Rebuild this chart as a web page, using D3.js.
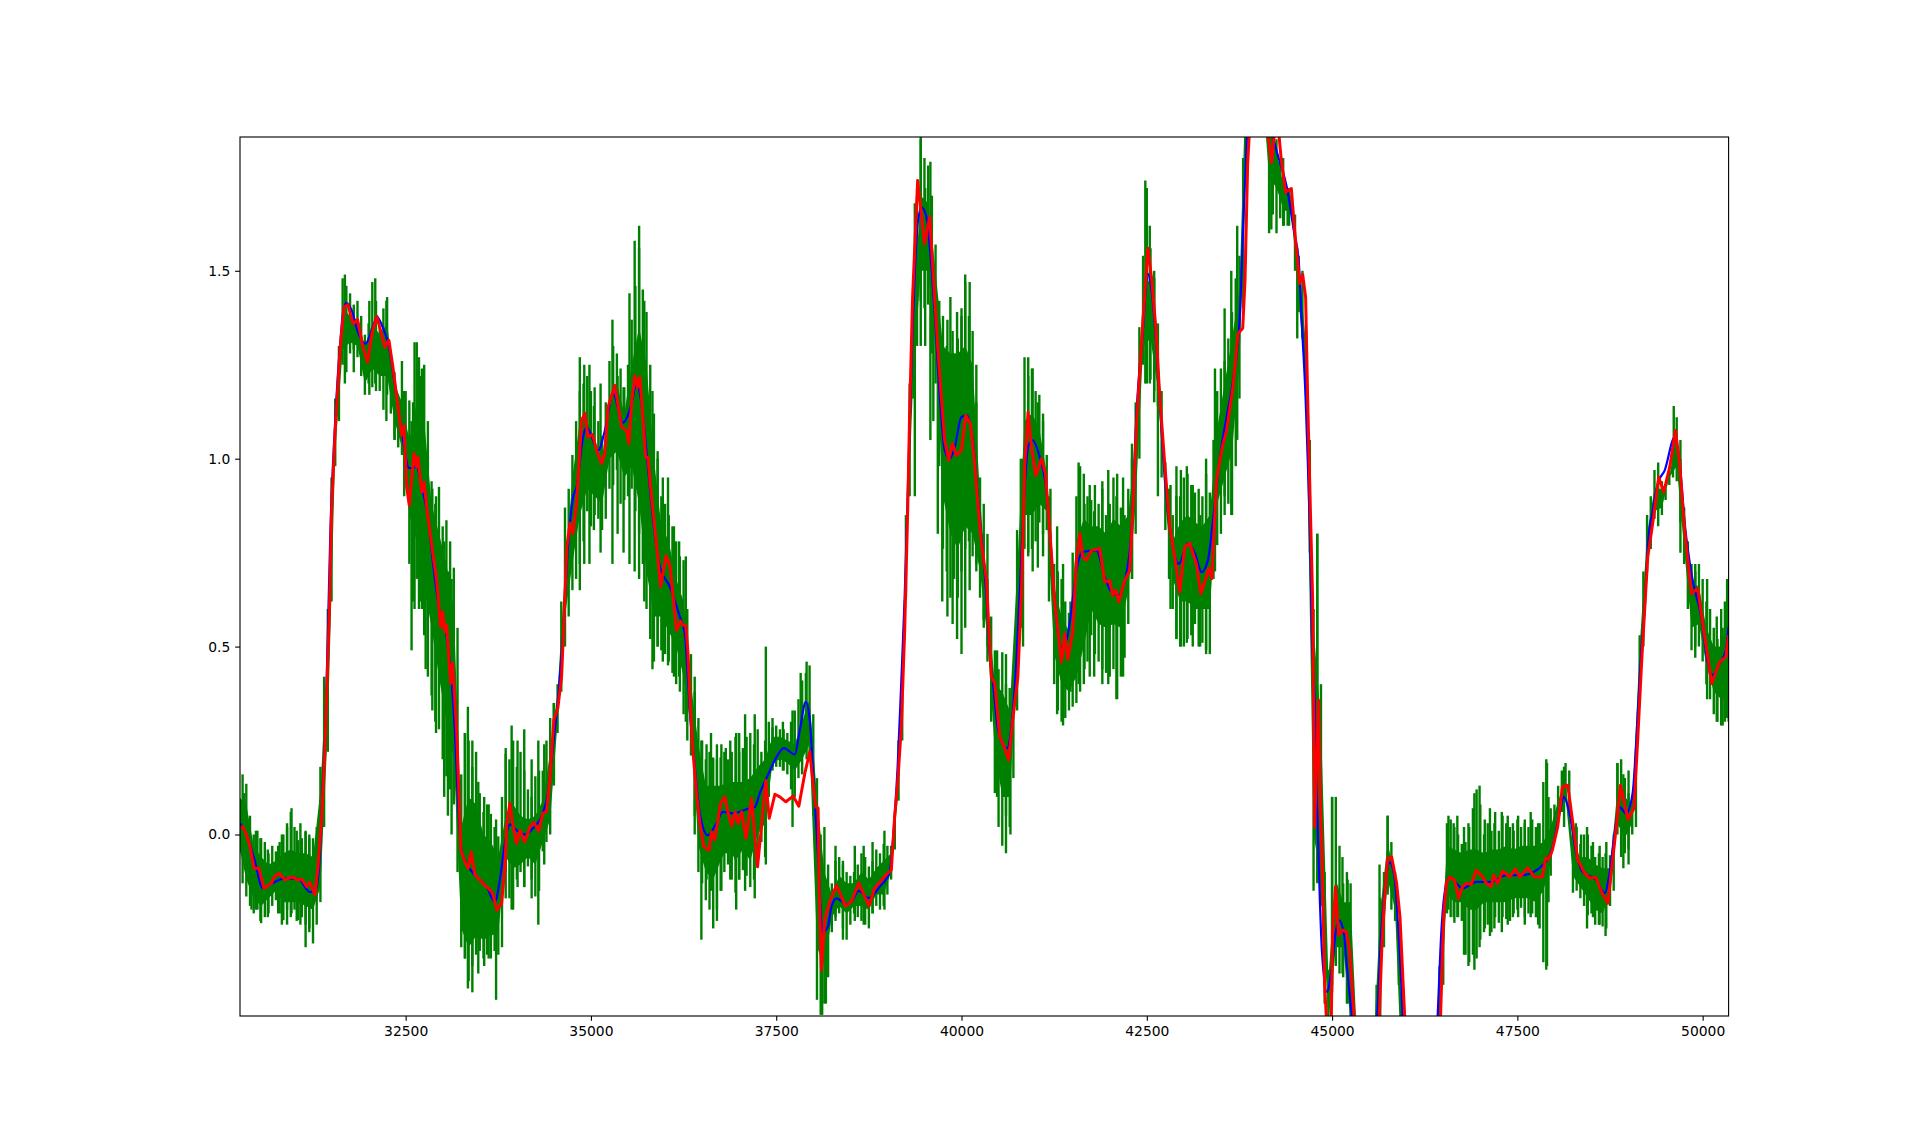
<!DOCTYPE html>
<html><head><meta charset="utf-8">
<script src="https://cdn.jsdelivr.net/npm/d3@7"></script>
<style>html,body{margin:0;padding:0;background:#fff}svg{display:block}</style>
</head><body><svg id="c" width="1920" height="1142"></svg>
<script>
const xTicks=[32500,35000,37500,40000,42500,45000,47500,50000];
const yTicks=[0,0.5,1,1.5];
const xDomain=[30265,50350], yDomain=[-0.483,1.856];

const greenX=d3.range(30250,50351,100);
const greenMidX=d3.range(30300,50351,100);
// outermost reach of the noisy series, per column
const greenHi=[
.17,.135,.0,-.01,-.05,-.045,.0,.06,-.015,.007,
-.01,.18,.6,1.16,1.48,1.44,1.42,1.33,1.47,1.35,
1.43,1.23,1.26,1.155,1.31,1.25,.94,.925,.836,.71,
.16,.25,.22,.06,.055,-.005,.215,.25,.22,.12,
.155,.17,.31,.4,.87,1.01,1.27,1.22,1.19,1.06,
1.26,1.28,1.19,1.37,1.56,1.39,1.12,.9,.85,.78,
.73,.48,.31,.2,.205,.205,.2,.26,.23,.27,
.28,.25,.285,.28,.27,.33,.41,.45,.15,.02,
-.13,-.06,-.1,-.1,-.05,-.085,-.04,-.025,-.03,.25,
.85,1.47,1.85,1.78,1.57,1.38,1.43,1.32,1.47,1.34,
.95,.68,.49,.485,.39,.81,1.27,1.24,1.17,1.01,
.72,.68,.59,.9,.96,.89,.88,.85,.95,.87,
.92,1.15,1.54,1.56,1.36,.99,.85,.9,.96,.91,
.9,.91,1.18,1.26,1.39,1.54,2.1,2.1,2.1,1.9,
1.85,1.72,1.7,1.54,1.34,.6,.4,-.36,.1,-.13,
-.13,-.6,-.8,-.55,-.17,.05,-.1,-.5,-.8,-1,
-1,-.8,-.35,.03,.02,-.025,.02,.12,.0,.01,
.01,.03,.01,.02,.02,.02,.14,.07,.13,.19,
.0,-.025,.0,-.06,-.06,-.055,.19,.15,.1,.53,
.85,.97,.94,.97,1.11,.87,.72,.72,.62,.55,
.6,.66];
const greenLo=[
-.08,-.165,-.21,-.236,-.21,-.175,-.228,-.22,-.228,-.24,
-.29,-.18,.22,.98,1.25,1.28,1.27,1.17,1.19,1.18,
1.17,1.05,1.01,.72,.68,.53,.37,.28,.155,.08,
-.3,-.39,-.32,-.33,-.33,-.32,-.1,-.2,-.1,-.085,
-.165,-.045,.0,.27,.5,.65,.72,.86,.85,.81,
.92,.97,.89,.92,.8,.6,.46,.49,.46,.4,
.32,.21,-.1,-.175,-.25,-.15,-.08,-.155,-.095,-.14,
-.05,-.06,.17,.18,.16,.1,.16,.2,-.44,-.45,
-.26,-.21,-.28,-.21,-.23,-.25,-.19,-.19,-.12,.09,
.63,1.16,1.42,1.41,1.2,.76,.63,.63,.76,.74,
.63,.46,.11,-.03,.02,.33,.76,.76,.83,.81,
.4,.3,.33,.35,.4,.53,.46,.43,.44,.42,
.56,.8,1.25,1.21,1.14,.81,.6,.5,.52,.56,
.51,.48,.77,.9,.85,1.16,1.75,2.0,2.0,1.6,
1.6,1.62,1.65,1.39,1.16,-.15,-.19,-.5,-.35,-.38,
-.5,-1,-1,-1,-.5,-.15,-.23,-.7,-1,-1.2,
-1.2,-1,-.55,-.21,-.235,-.23,-.34,-.33,-.26,-.26,
-.235,-.225,-.21,-.195,-.21,-.22,-.34,-.11,.04,.09,
-.155,-.17,-.215,-.24,-.245,-.19,.0,-.05,.0,.36,
.7,.84,.85,.93,.94,.72,.49,.5,.4,.32,
.29,.3];
// solid core of the noisy series
const greenBodyHi=[
.1,.08,-.03,-.06,-.08,-.07,-.05,-.04,-.05,-.05,
-.06,.12,.5,1.1,1.4,1.38,1.37,1.3,1.36,1.33,
1.36,1.2,1.15,1.05,1.15,1.1,.88,.8,.72,.6,
.02,.1,.08,.0,-.02,-.06,.05,.08,.05,.04,
.05,.09,.22,.38,.7,.95,1.1,1.1,1.05,1.0,
1.15,1.2,1.12,1.25,1.35,1.25,1.0,.82,.78,.68,
.62,.4,.24,.13,.13,.13,.14,.14,.14,.15,
.18,.2,.26,.26,.25,.24,.3,.36,.1,-.1,
-.16,-.11,-.13,-.13,-.1,-.12,-.09,-.07,-.05,.2,
.78,1.4,1.7,1.68,1.5,1.3,1.28,1.28,1.3,1.25,
.9,.62,.4,.38,.33,.7,1.1,1.12,1.08,.96,
.66,.58,.54,.78,.84,.82,.82,.8,.84,.82,
.85,1.05,1.45,1.48,1.3,.95,.78,.83,.85,.83,
.82,.85,1.08,1.2,1.32,1.45,2.1,2.1,2.1,1.95,
1.82,1.72,1.7,1.52,1.3,.55,.3,-.38,-.12,-.18,
-.18,-.6,-.8,-.6,-.2,-.02,-.12,-.5,-.8,-1,
-1,-.8,-.37,-.03,-.04,-.05,-.04,-.04,-.05,-.04,
-.04,-.03,-.04,-.03,-.03,-.03,-.02,.02,.09,.14,
-.03,-.06,-.06,-.08,-.09,-.09,.12,.1,.08,.5,
.8,.92,.92,.95,1.07,.82,.67,.66,.55,.5,
.5,.6];
const greenBodyLo=[
-.03,-.12,-.17,-.19,-.17,-.15,-.18,-.18,-.18,-.19,
-.2,-.14,.28,1.02,1.29,1.31,1.3,1.2,1.24,1.22,
1.22,1.1,1.03,.85,.78,.66,.55,.42,.3,.2,
-.25,-.3,-.27,-.28,-.27,-.26,-.06,-.09,-.08,-.06,
-.08,-.02,.04,.3,.58,.72,.85,.92,.9,.88,
1.0,1.02,.95,.98,.88,.7,.58,.58,.54,.5,
.42,.28,-.03,-.1,-.12,-.07,-.03,-.07,-.04,-.07,
.0,.03,.19,.2,.19,.17,.2,.24,-.3,-.35,
-.22,-.19,-.21,-.19,-.19,-.2,-.16,-.16,-.1,.12,
.7,1.22,1.5,1.5,1.28,.9,.8,.76,.82,.8,
.7,.52,.22,.1,.1,.45,.85,.85,.88,.86,
.48,.4,.38,.42,.5,.6,.56,.55,.56,.55,
.65,.88,1.3,1.32,1.18,.88,.68,.62,.62,.6,
.6,.6,.88,.95,1.02,1.25,1.85,2,2,1.75,
1.72,1.66,1.66,1.42,1.18,.0,-.12,-.5,-.3,-.3,
-.5,-1,-1,-1,-.4,-.12,-.2,-.7,-1,-1.2,
-1.2,-1,-.5,-.16,-.18,-.18,-.2,-.2,-.18,-.18,
-.18,-.18,-.17,-.17,-.17,-.18,-.15,-.08,.05,.1,
-.11,-.14,-.17,-.2,-.21,-.16,.03,-.01,.03,.38,
.73,.86,.87,.95,.98,.76,.55,.56,.45,.38,
.36,.36];
// reach of the noise halfway between columns
const greenMidHi=[
.16,.05,.01,-.02,-.03,-.02,.03,.02,-.01,-.01,
.02,.42,.95,1.3,1.46,1.4,1.38,1.36,1.42,1.4,
1.27,1.16,1.18,1.15,1.22,1.1,.88,.82,.78,.55,
.27,.18,.11,.08,.02,.1,.2,.18,.17,.1,
.17,.25,.35,.62,.92,1.1,1.2,1.18,1.1,1.15,
1.3,1.24,1.25,1.46,1.45,1.25,1.02,.88,.82,.74,
.6,.38,.25,.22,.2,.22,.22,.22,.26,.24,
.22,.3,.29,.28,.3,.36,.43,.32,.0,-.08,
-.07,-.08,-.11,-.08,-.06,-.07,-.05,-.03,.05,.45,
1.2,1.7,1.8,1.7,1.42,1.3,1.28,1.4,1.38,1.25,
.8,.58,.44,.48,.42,1.0,1.22,1.18,1.12,.92,
.7,.62,.75,.98,.9,.93,.92,.88,.96,.85,
1.0,1.35,1.72,1.48,1.18,.92,.9,.95,.93,.92,
.96,1.05,1.24,1.32,1.48,1.8,2.1,2.1,2.05,1.88,
1.8,1.72,1.65,1.5,1.05,.8,-.1,.1,-.03,-.1,
-.5,-.7,-.7,-.4,-.1,-.02,-.25,-.7,-.9,-1,
-.95,-.6,-.2,.04,.0,-.02,.07,.08,.03,.06,
.05,.02,.04,.03,.04,.03,.19,.08,.17,.17,
.02,.0,-.03,-.05,-.02,.0,.2,.17,.15,.7,
.9,.99,.92,1.03,1.05,.78,.7,.68,.6,.52,
.62];
const greenMidLo=[
-.13,-.19,-.2,-.22,-.19,-.21,-.2,-.2,-.22,-.25,
-.24,.02,.62,1.1,1.23,1.29,1.22,1.2,1.18,1.13,
1.12,1.03,.95,.62,.62,.42,.3,.2,.12,-.1,
-.33,-.35,-.31,-.32,-.31,-.3,-.17,-.12,-.14,-.12,
-.15,-.02,.13,.38,.58,.68,.78,.82,.84,.84,
.93,.88,.9,.86,.72,.52,.5,.48,.43,.38,
.25,.05,-.13,-.2,-.2,-.1,-.12,-.12,-.11,-.12,
-.02,.1,.18,.17,.12,.15,.22,.05,-.48,-.38,
-.23,-.25,-.24,-.22,-.24,-.21,-.2,-.16,-.04,.25,
.9,1.3,1.4,1.28,.98,.7,.68,.7,.78,.72,
.55,.3,.02,.05,.15,.55,.74,.78,.8,.74,
.33,.31,.34,.38,.46,.48,.44,.42,.36,.47,
.68,1.0,1.2,1.18,.95,.68,.52,.5,.53,.5,
.49,.68,.8,.88,.98,1.4,2,2,1.9,1.65,
1.64,1.62,1.5,1.32,.75,-.12,-.45,-.4,-.37,-.45,
-.7,-1,-1,-.8,-.3,-.2,-.4,-1,-1.1,-1.2,
-1.1,-.8,-.4,-.22,-.22,-.32,-.32,-.28,-.24,-.22,
-.22,-.23,-.2,-.22,-.21,-.25,-.35,-.02,.06,.06,
-.15,-.19,-.21,-.24,-.25,-.15,-.06,-.04,.02,.5,
.76,.82,.89,.95,.83,.6,.5,.46,.36,.3,
.3];

// isolated spikes of the noisy series: x, low, high
const greenSpikes=[
[30320,-.02,.11],[30420,-.2,-.02],[30480,-.2,.01],[30540,-.23,-.01],[30640,-.22,-.04],[30780,-.21,-.03],[30830,-.24,.0],[30900,-.24,.02],[30960,-.21,.07],[31030,-.23,.01],[31080,-.24,.03],[31150,-.3,.01],[31200,-.26,.0],
[31680,1.2,1.49],[31800,1.23,1.41],[32010,1.17,1.42],[32090,1.2,1.48],[32240,1.1,1.42],[32350,1.05,1.21],[32480,.9,1.18],[32580,.49,1.1],[32620,.6,1.31],[32680,.6,1.27],[32720,.6,1.24],[32770,.44,1.0],[32860,.33,.92],[32910,.27,.9],[33020,.1,.78],[33070,.05,.7],[33120,.0,.68],
[33340,-.41,.34],[33300,-.33,.27],[33400,-.42,.25],[33480,-.37,.14],[33560,-.35,.1],[33620,-.33,.08],[33720,-.44,.04],[33850,-.17,.23],[33930,-.2,.29],[34010,-.14,.25],[34100,-.14,.28],[34200,-.17,.2],[34290,-.24,.25],[34370,-.08,.24],[34500,.14,.35],
[34850,.65,1.18],[34910,.72,1.25],[34980,.72,1.25],[35040,.81,1.14],[35130,.75,1.2],[35290,.72,1.37],[35360,.8,1.22],[35440,.75,1.19],[35520,.72,1.44],[35590,.7,1.58],[35650,.68,1.62],[35720,.62,1.42],[35830,.44,1.18],[35900,.5,1.0],[35970,.46,.95],[36040,.45,.95],[36120,.42,.82],[36190,.42,.78],[36280,.3,.74],
[36400,.0,.42],[36490,-.28,.25],[36560,-.12,.24],[36620,-.15,.27],[36700,-.23,.24],[36760,-.15,.24],[36820,-.05,.23],[36880,-.12,.25],[36960,-.2,.27],[37000,-.12,.27],[37080,-.15,.32],[37210,-.17,.32],[37360,-.08,.5],[37450,.18,.31],[37590,.17,.3],[37720,.02,.33],[37830,.2,.43],[37910,.2,.46],
[38120,-.48,-.1],[38170,-.45,-.13],[38300,-.22,-.03],[38400,-.28,-.07],[38560,-.23,-.03],[38680,-.24,-.03],[38800,-.21,-.02],[38960,-.2,.01],
[39370,.9,1.68],[39450,1.3,1.86],[39510,1.3,1.72],[39580,1.05,1.79],[39620,1.1,1.52],[39680,.8,1.32],[39740,.62,1.26],[39810,.58,1.37],[39880,.56,1.34],[39940,.52,1.39],[40000,.48,1.38],[40050,.55,1.49],[40110,.65,1.47],[40200,.7,1.15],[40300,.57,.88],[40350,.5,.8],[40480,.1,.49],[40600,-.05,.4],[40660,.0,.35],
[40830,.5,1.0],[40900,.75,1.27],[40960,.7,1.24],[41030,.71,1.15],[41100,.74,1.1],[41180,.62,.9],[41290,.32,.82],[41370,.29,.72],[41470,.38,.62],[41580,.4,.99],[41660,.44,.88],[41730,.42,.93],[41790,.42,.86],[41900,.4,.94],[41980,.4,.97],[42090,.36,.9],[42180,.42,.95],
[42300,.68,1.04],[42480,1.2,1.74],[42540,1.2,1.62],[42600,1.15,1.5],[42650,.9,1.2],[42820,.6,.93],[42900,.52,.98],[42960,.5,.97],[43040,.51,.98],[43120,.5,.93],[43220,.5,.85],[43300,.48,1.0],[43420,.7,1.24],[43550,.85,1.4],[43640,.85,1.5],[43720,1.05,1.62],
[44180,1.61,1.86],[44340,1.62,1.8],[44420,1.62,1.72],[44530,1.32,1.56],[44800,-.13,.8],[45000,-.42,.1],[45140,-.37,-.06],[45210,-.45,-.12],
[45640,-.42,-.08],[45750,-.16,.05],
[46570,-.2,.05],[46640,-.22,.03],[46690,-.22,.05],[46780,-.32,.02],[46840,-.35,.03],[46920,-.36,.11],[46990,-.3,.13],[47060,-.25,.04],[47130,-.27,.07],[47190,-.25,.03],[47290,-.26,.06],[47370,-.24,.05],[47440,-.22,.03],[47510,-.22,.05],[47600,-.24,.04],[47680,-.22,.06],[47780,-.24,.03],[47890,-.36,.2],[47920,-.18,.1],
[48130,.02,.18],[48290,-.12,.03],[48360,-.14,.0],[48440,-.25,.02],[48520,-.22,-.02],[48610,-.24,-.03],[48690,-.27,-.05],[48850,.02,.19],[48930,-.09,.16],[49000,-.08,.11],
[49610,.98,1.14],[49700,.75,1.0],[49900,.47,.72],[50060,.36,.68],[50190,.3,.58],[50270,.29,.55],[50330,.31,.68]];

const blueSeries=[[30265,.03],[30350,.0],[30450,-.06],[30575,-.143],[30700,-.13],[30872,-.117],[31050,-.118],[31209,-.153],[31276,-.15],[31330,-.09],[31384,.14],[31420,.3],[31486,.82],[31552,1.11],[31618,1.31],[31660,1.395],[31704,1.415],[31780,1.39],[31850,1.34],[31960,1.306],[32040,1.34],[32115,1.377],[32190,1.35],[32265,1.306],[32378,1.164],[32465,1.049],[32546,.975],[32648,.978],[32715,.925],[32800,.845],[32870,.72],[32963,.588],[33053,.526],[33120,.41],[33165,.27],[33205,.09],[33255,-.042],[33323,-.077],[33457,-.113],[33592,-.139],[33704,-.179],[33772,-.12],[33839,-.024],[33906,.027],[33996,.011],[34108,.0],[34216,.016],[34350,.056],[34420,.11],[34487,.233],[34554,.357],[34626,.543],[34690,.765],[34760,.898],[34807,.925],[34893,1.057],[34941,1.084],[35098,1.022],[35188,1.075],[35298,1.173],[35433,1.096],[35548,1.146],[35615,1.2],[35683,1.146],[35773,.969],[35840,.836],[35930,.712],[36065,.659],[36200,.579],[36267,.534],[36310,.41],[36345,.3],[36402,.18],[36469,.056],[36577,-.002],[36693,.03],[36780,.06],[36915,.056],[37100,.067],[37212,.073],[37279,.11],[37387,.158],[37504,.206],[37603,.23],[37751,.213],[37818,.277],[37899,.353],[37953,.304],[37993,.18],[38060,-.042],[38128,-.259],[38195,-.246],[38245,-.193],[38312,-.17],[38447,-.185],[38514,-.179],[38612,-.15],[38747,-.169],[38895,-.139],[39030,-.1],[39097,.047],[39138,.18],[39188,.41],[39233,.632],[39273,.898],[39340,1.341],[39408,1.625],[39462,1.669],[39527,1.643],[39572,1.563],[39639,1.386],[39707,1.164],[39774,1.022],[39842,1.0],[39909,1.031],[39999,1.111],[40071,1.115],[40152,1.049],[40220,.898],[40269,.791],[40337,.632],[40382,.48],[40426,.402],[40494,.277],[40611,.229],[40678,.296],[40746,.482],[40813,.765],[40858,.942],[40898,1.031],[40957,1.049],[41056,1.004],[41133,.934],[41191,.809],[41259,.615],[41348,.499],[41416,.517],[41483,.597],[41551,.703],[41637,.752],[41820,.756],[41933,.685],[42023,.645],[42110,.636],[42204,.676],[42294,.809],[42361,1.12],[42447,1.341],[42514,1.492],[42564,1.448],[42631,1.297],[42699,1.075],[42766,.898],[42852,.765],[42933,.72],[43055,.775],[43150,.748],[43239,.698],[43325,.73],[43393,.836],[43487,1.004],[43577,1.111],[43663,1.208],[43757,1.386],[43798,1.607],[43847,1.838],[43900,2.0],[44000,2.08],[44100,2.0],[44215,1.847],[44282,1.798],[44390,1.722],[44484,1.607],[44552,1.519],[44592,1.359],[44642,1.164],[44673,.987],[44710,.72],[44727,.534],[44765,.357],[44795,.091],[44835,-.175],[44862,-.307],[44930,-.419],[44997,-.352],[45047,-.263],[45092,-.228],[45159,-.263],[45200,-.352],[45263,-.476],[45330,-.6],[45450,-.75],[45609,-.483],[45662,-.263],[45707,-.156],[45775,-.074],[45842,-.113],[45883,-.219],[45933,-.396],[45950,-.483],[46200,-1.0],[46424,-.483],[46473,-.263],[46518,-.156],[46585,-.113],[46761,-.143],[46946,-.126],[47148,-.126],[47350,-.108],[47570,-.108],[47840,-.082],[47975,-.033],[48069,.056],[48123,.1],[48204,.056],[48294,-.05],[48380,-.1],[48564,-.121],[48676,-.156],[48744,-.103],[48811,.003],[48878,.073],[48968,.056],[49055,.11],[49122,.313],[49172,.49],[49218,.6],[49259,.765],[49326,.862],[49394,.934],[49488,.969],[49623,1.057],[49690,.987],[49758,.828],[49848,.695],[49980,.579],[50070,.456],[50133,.424],[50232,.456],[50312,.49],[50350,.552]];

const redSeries=[[30275,.02],[30305,.02],[30355,-.002],[30400,-.033],[30454,-.09],[30521,-.09],[30589,-.143],[30692,-.129],[30723,-.113],[30791,-.103],[30872,-.121],[30962,-.113],[31048,-.121],[31095,-.118],[31165,-.139],[31209,-.127],[31276,-.161],[31317,-.086],[31367,.047],[31411,.224],[31434,.375],[31470,.588],[31502,.87],[31547,1.067],[31614,1.288],[31668,1.403],[31722,1.41],[31789,1.359],[31852,1.37],[31924,1.297],[31987,1.257],[32045,1.333],[32112,1.379],[32220,1.297],[32274,1.315],[32328,1.244],[32395,1.142],[32446,1.062],[32477,1.088],[32513,.925],[32549,.876],[32612,1.014],[32648,.978],[32665,1.004],[32716,.911],[32747,.938],[32801,.845],[32855,.765],[32919,.676],[32972,.552],[32999,.592],[33030,.539],[33053,.557],[33107,.402],[33134,.455],[33188,.277],[33246,-.042],[33300,-.073],[33343,-.09],[33383,-.046],[33437,-.108],[33544,-.13],[33612,-.143],[33650,-.15],[33680,-.16],[33731,-.201],[33795,-.183],[33839,-.086],[33866,.03],[33906,.083],[33943,.03],[33996,-.024],[34041,.011],[34108,-.02],[34175,.02],[34229,.032],[34297,.009],[34350,.056],[34400,.06],[34445,.144],[34499,.304],[34553,.336],[34604,.42],[34621,.499],[34675,.765],[34716,.828],[34756,.801],[34806,.881],[34874,1.102],[34919,1.121],[34960,1.057],[35023,1.064],[35077,1.022],[35144,.987],[35188,1.014],[35230,1.137],[35323,1.195],[35413,1.084],[35481,1.075],[35512,1.04],[35548,1.146],[35593,1.221],[35629,1.19],[35660,1.217],[35705,1.102],[35737,1.004],[35768,1.004],[35818,.898],[35885,.77],[35940,.659],[36012,.742],[36065,.716],[36110,.632],[36155,.543],[36209,.568],[36240,.557],[36280,.557],[36310,.482],[36335,.366],[36375,.224],[36427,.105],[36469,.03],[36523,-.033],[36595,-.042],[36627,.007],[36672,-.015],[36749,.083],[36807,.1],[36852,.056],[36900,.022],[36945,.06],[36990,.03],[37035,.06],[37093,-.01],[37167,.096],[37248,-.086],[37360,.144],[37405,.043],[37482,.107],[37549,.1],[37630,.087],[37729,.102],[37805,.075],[37886,.163],[37953,.22],[37993,.144],[38034,.073],[38065,.07],[38080,-.15],[38110,-.361],[38155,-.228],[38222,-.179],[38312,-.135],[38433,-.19],[38514,-.179],[38612,-.129],[38751,-.19],[38828,-.143],[38895,-.127],[39003,-.103],[39053,-.095],[39098,.047],[39138,.136],[39188,.286],[39233,.543],[39273,.854],[39300,1.12],[39340,1.43],[39408,1.74],[39458,1.651],[39502,1.571],[39570,1.644],[39610,1.519],[39679,1.297],[39728,1.164],[39773,1.049],[39827,.996],[39877,1.04],[39931,1.009],[39999,1.022],[40057,1.115],[40120,1.094],[40178,.987],[40220,.881],[40269,.775],[40337,.676],[40382,.499],[40404,.419],[40449,.402],[40516,.26],[40583,.229],[40637,.198],[40691,.304],[40760,.419],[40809,.641],[40854,.987],[40898,1.124],[40944,1.031],[41003,.955],[41078,1.0],[41133,.96],[41191,.809],[41259,.615],[41348,.459],[41393,.534],[41433,.466],[41501,.539],[41551,.73],[41596,.801],[41637,.738],[41686,.73],[41753,.756],[41865,.761],[41933,.672],[42000,.676],[42041,.636],[42081,.65],[42122,.619],[42203,.676],[42270,.703],[42310,.854],[42364,1.102],[42428,1.306],[42514,1.56],[42563,1.483],[42621,1.35],[42675,1.164],[42742,.987],[42810,.818],[42877,.738],[42944,.645],[43012,.765],[43079,.775],[43169,.72],[43229,.641],[43283,.672],[43337,.708],[43378,.681],[43441,.942],[43509,1.022],[43576,1.075],[43663,1.19],[43731,1.333],[43794,1.347],[43825,1.474],[43861,1.785],[43893,1.9],[44000,2.1],[44100,2.0],[44132,1.87],[44182,1.788],[44225,1.87],[44279,1.87],[44315,1.794],[44373,1.709],[44450,1.719],[44495,1.607],[44562,1.466],[44603,1.49],[44643,1.43],[44670,1.164],[44697,.942],[44737,.632],[44765,.02],[44818,.357],[44841,.091],[44868,-.086],[44899,-.396],[44926,-.5],[44989,-.5],[45007,-.263],[45047,-.139],[45087,-.268],[45141,-.254],[45191,-.259],[45236,-.307],[45303,-.5],[45500,-.8],[45634,-.5],[45670,-.307],[45700,-.193],[45750,-.063],[45804,-.06],[45871,-.13],[45916,-.219],[45983,-.5],[46200,-1.0],[46461,-.5],[46505,-.219],[46541,-.13],[46585,-.113],[46653,-.121],[46707,-.17],[46761,-.139],[46810,-.13],[46878,-.133],[46945,-.095],[47035,-.113],[47080,-.13],[47148,-.139],[47180,-.108],[47234,-.13],[47302,-.097],[47396,-.113],[47472,-.092],[47531,-.113],[47638,-.089],[47733,-.113],[47837,-.113],[47882,-.063],[47920,-.066],[47972,-.042],[48044,.02],[48108,.127],[48180,.131],[48243,.038],[48315,-.068],[48409,-.103],[48477,-.116],[48558,-.114],[48635,-.153],[48721,-.183],[48815,-.015],[48892,.131],[48993,.04],[49074,.07],[49128,.269],[49178,.464],[49218,.6],[49259,.738],[49326,.828],[49407,.951],[49475,.911],[49556,.978],[49633,1.075],[49690,.987],[49758,.809],[49848,.641],[49933,.655],[50001,.562],[50122,.402],[50230,.459],[50311,.472],[50350,.53]];

const W=1920,H=1142,L=240,R=1728.6,T=137,B=1016;
const svg=d3.select('#c');
const x=d3.scaleLinear().domain(xDomain).range([L,R]);
const y=d3.scaleLinear().domain(yDomain).range([B,T]);
svg.append('rect').attr('width',W).attr('height',H).attr('fill','#fff');
svg.append('clipPath').attr('id','plot').append('rect').attr('x',L).attr('y',T).attr('width',R-L).attr('height',B-T);
const g=svg.append('g').attr('clip-path','url(#plot)');

g.append('path').datum(greenX.map((d,i)=>[d,greenBodyHi[i],greenBodyLo[i]]))
 .attr('fill','#008000')
 .attr('d',d3.area().x(d=>x(d[0])).y0(d=>y(d[2])).y1(d=>y(d[1])));
const columns=greenX.map((d,i)=>[d,greenLo[i],greenHi[i]])
 .concat(greenMidX.map((d,i)=>[d,greenMidLo[i],greenMidHi[i]]))
 .concat(greenSpikes);
g.append('g').selectAll('line').data(columns).join('line')
 .attr('x1',d=>x(d[0])).attr('x2',d=>x(d[0])).attr('y1',d=>y(d[1])).attr('y2',d=>y(d[2]))
 .attr('stroke','#008000').attr('stroke-width',2.4);

g.append('path').datum(blueSeries).attr('fill','none').attr('stroke','#0000ff').attr('stroke-width',2.2)
 .attr('stroke-linejoin','round').attr('d',d3.line().x(d=>x(d[0])).y(d=>y(d[1])).curve(d3.curveMonotoneX));
g.append('path').datum(redSeries).attr('fill','none').attr('stroke','#ff0000').attr('stroke-width',3)
 .attr('stroke-linejoin','round').attr('d',d3.line().x(d=>x(d[0])).y(d=>y(d[1])));

const fmtY=d3.format('.1f');
const ax=svg.append('g').attr('transform',`translate(0,${B})`).call(d3.axisBottom(x).tickValues(xTicks).tickFormat(d3.format('d')).tickSize(4.86).tickPadding(4.86));
const ay=svg.append('g').attr('transform',`translate(${L},0)`).call(d3.axisLeft(y).tickValues(yTicks).tickFormat(fmtY).tickSize(4.86).tickPadding(4.86));
[ax,ay].forEach(a=>{a.select('.domain').remove();
 a.selectAll('line').attr('stroke','#000').attr('stroke-width',1.11);
 a.selectAll('text').attr('fill','#000').style('font-family','"DejaVu Sans"').style('font-size','13.89px');});
svg.append('rect').attr('x',L).attr('y',T).attr('width',R-L).attr('height',B-T).attr('fill','none').attr('stroke','#000').attr('stroke-width',1.11);
</script></body></html>
